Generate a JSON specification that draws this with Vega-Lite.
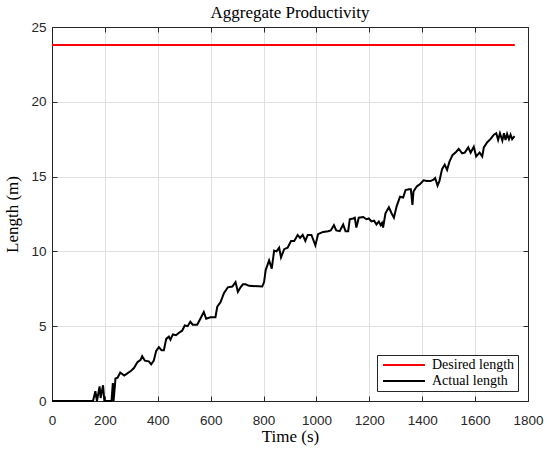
{
  "$schema": "https://vega.github.io/schema/vega-lite/v6.json",
  "width": 476,
  "height": 374,
  "autosize": {"type": "none"},
  "padding": {"left": 52, "top": 27, "right": 22, "bottom": 53},
  "background": "white",
  "title": {
    "text": "Aggregate Productivity",
    "font": "Liberation Serif",
    "fontSize": 17,
    "fontWeight": "normal",
    "color": "#000000",
    "anchor": "middle",
    "offset": -2
  },
  "config": {
    "view": {"stroke": "#262626", "strokeWidth": 1},
    "axis": {
      "labelFont": "Liberation Sans",
      "labelFontSize": 13.5,
      "labelColor": "#262626",
      "titleFont": "Liberation Serif",
      "titleFontSize": 17,
      "titleFontWeight": "normal",
      "titleColor": "#000000",
      "domainColor": "#262626",
      "tickColor": "#262626",
      "tickSize": -5,
      "gridColor": "#e0e0e0",
      "gridWidth": 1
    }
  },
  "datasets": {
    "desired": [
      {"t": 0, "v": 23.8, "series": "Desired length"},
      {"t": 1750, "v": 23.8, "series": "Desired length"}
    ],
    "actual": [
      {"t": 0, "v": 0}, {"t": 155, "v": 0}, {"t": 164, "v": 0.65}, {"t": 170, "v": 0},
      {"t": 180, "v": 0.98}, {"t": 184, "v": 0.2}, {"t": 193, "v": 1.05}, {"t": 198, "v": 0},
      {"t": 225, "v": 0}, {"t": 230, "v": 1.2}, {"t": 233, "v": 0}, {"t": 240, "v": 1.5},
      {"t": 248, "v": 1.55}, {"t": 258, "v": 1.9}, {"t": 273, "v": 1.7}, {"t": 285, "v": 1.85},
      {"t": 298, "v": 2.0}, {"t": 310, "v": 2.2}, {"t": 323, "v": 2.6}, {"t": 335, "v": 2.75},
      {"t": 341, "v": 3.0}, {"t": 351, "v": 2.7}, {"t": 366, "v": 2.65}, {"t": 375, "v": 2.45},
      {"t": 385, "v": 2.7}, {"t": 394, "v": 3.35}, {"t": 404, "v": 3.6}, {"t": 414, "v": 3.4},
      {"t": 423, "v": 3.4}, {"t": 432, "v": 4.15}, {"t": 442, "v": 4.3}, {"t": 448, "v": 4.1},
      {"t": 457, "v": 4.45}, {"t": 469, "v": 4.4}, {"t": 479, "v": 4.55}, {"t": 492, "v": 4.7},
      {"t": 502, "v": 5.05}, {"t": 513, "v": 5.0}, {"t": 523, "v": 5.3}, {"t": 532, "v": 5.1},
      {"t": 549, "v": 5.1}, {"t": 561, "v": 5.5}, {"t": 574, "v": 5.95}, {"t": 583, "v": 5.5},
      {"t": 599, "v": 5.6}, {"t": 618, "v": 5.6}, {"t": 625, "v": 6.3}, {"t": 637, "v": 6.6},
      {"t": 650, "v": 7.2}, {"t": 665, "v": 7.6}, {"t": 682, "v": 7.65}, {"t": 694, "v": 7.95},
      {"t": 703, "v": 7.3}, {"t": 713, "v": 7.6}, {"t": 722, "v": 7.8}, {"t": 732, "v": 7.8},
      {"t": 745, "v": 7.7}, {"t": 795, "v": 7.65}, {"t": 802, "v": 7.95}, {"t": 808, "v": 8.75},
      {"t": 821, "v": 9.4}, {"t": 831, "v": 8.85}, {"t": 840, "v": 10.05}, {"t": 849, "v": 10.0},
      {"t": 859, "v": 10.25}, {"t": 866, "v": 9.6}, {"t": 878, "v": 10.15}, {"t": 891, "v": 10.25},
      {"t": 904, "v": 10.7}, {"t": 916, "v": 10.7}, {"t": 929, "v": 11.1}, {"t": 938, "v": 10.9},
      {"t": 948, "v": 11.1}, {"t": 958, "v": 10.7}, {"t": 967, "v": 11.1}, {"t": 981, "v": 11.1},
      {"t": 996, "v": 10.4}, {"t": 1006, "v": 11.15}, {"t": 1025, "v": 11.3}, {"t": 1044, "v": 11.35},
      {"t": 1054, "v": 11.4}, {"t": 1066, "v": 11.75}, {"t": 1075, "v": 11.4}, {"t": 1088, "v": 11.35},
      {"t": 1101, "v": 11.8}, {"t": 1110, "v": 11.35}, {"t": 1120, "v": 11.35}, {"t": 1126, "v": 12.15},
      {"t": 1139, "v": 12.2}, {"t": 1145, "v": 12.25}, {"t": 1151, "v": 11.6}, {"t": 1160, "v": 12.25},
      {"t": 1177, "v": 12.3}, {"t": 1189, "v": 12.15}, {"t": 1198, "v": 12.2}, {"t": 1208, "v": 12.0},
      {"t": 1218, "v": 12.05}, {"t": 1227, "v": 11.8}, {"t": 1236, "v": 12.0}, {"t": 1243, "v": 11.75},
      {"t": 1248, "v": 11.9}, {"t": 1252, "v": 11.6}, {"t": 1261, "v": 12.55}, {"t": 1274, "v": 12.95},
      {"t": 1284, "v": 12.55}, {"t": 1293, "v": 12.25}, {"t": 1303, "v": 13.0}, {"t": 1316, "v": 13.65},
      {"t": 1328, "v": 13.6}, {"t": 1337, "v": 14.1}, {"t": 1350, "v": 14.15}, {"t": 1357, "v": 14.15},
      {"t": 1363, "v": 13.1}, {"t": 1367, "v": 14.0}, {"t": 1380, "v": 14.35}, {"t": 1392, "v": 14.5},
      {"t": 1405, "v": 14.75}, {"t": 1418, "v": 14.7}, {"t": 1431, "v": 14.7}, {"t": 1443, "v": 14.8},
      {"t": 1449, "v": 14.9}, {"t": 1458, "v": 14.4}, {"t": 1465, "v": 14.7}, {"t": 1475, "v": 15.5},
      {"t": 1485, "v": 15.8}, {"t": 1494, "v": 15.45}, {"t": 1503, "v": 16.0}, {"t": 1515, "v": 16.45},
      {"t": 1528, "v": 16.65}, {"t": 1538, "v": 16.85}, {"t": 1551, "v": 16.55}, {"t": 1561, "v": 16.6},
      {"t": 1574, "v": 16.95}, {"t": 1583, "v": 16.6}, {"t": 1595, "v": 17.0}, {"t": 1604, "v": 16.35},
      {"t": 1617, "v": 16.6}, {"t": 1627, "v": 16.35}, {"t": 1633, "v": 16.95}, {"t": 1646, "v": 17.3},
      {"t": 1658, "v": 17.5}, {"t": 1671, "v": 17.8}, {"t": 1680, "v": 17.9}, {"t": 1687, "v": 17.45},
      {"t": 1694, "v": 17.9}, {"t": 1703, "v": 17.4}, {"t": 1709, "v": 17.9}, {"t": 1715, "v": 17.45},
      {"t": 1721, "v": 17.85}, {"t": 1728, "v": 17.5}, {"t": 1734, "v": 17.8}, {"t": 1740, "v": 17.5},
      {"t": 1749, "v": 17.7}
    ]
  },
  "layer": [
    {
      "data": {"name": "actual"},
      "transform": [{"calculate": "'Actual length'", "as": "series"}],
      "mark": {"type": "line", "strokeWidth": 2, "interpolate": "linear"},
      "encoding": {
        "x": {
          "field": "t",
          "type": "quantitative",
          "scale": {"domain": [0, 1800], "nice": false},
          "axis": {
            "title": "Time (s)",
            "format": "d",
            "values": [0, 200, 400, 600, 800, 1000, 1200, 1400, 1600, 1800],
            "labelPadding": 17,
            "titlePadding": 2,
            "labelFlush": false
          }
        },
        "y": {
          "field": "v",
          "type": "quantitative",
          "scale": {"domain": [0, 25], "nice": false},
          "axis": {
            "title": "Length (m)",
            "values": [0, 5, 10, 15, 20, 25],
            "labelPadding": 11,
            "titlePadding": 9,
            "labelFlush": false
          }
        },
        "color": {
          "field": "series",
          "type": "nominal",
          "scale": {"domain": ["Desired length", "Actual length"], "range": ["#ff0000", "#000000"]},
          "legend": {
            "title": null,
            "orient": "bottom-right",
            "offset": 10,
            "symbolType": "M-4,0H4",
            "symbolSize": 110,
            "symbolStrokeWidth": 2,
            "symbolFillColor": "transparent",
            "symbolOffset": 17,
            "labelFont": "Liberation Serif",
            "labelFontSize": 14,
            "labelColor": "#000000",
            "labelOffset": 21,
            "fillColor": "white",
            "strokeColor": "#262626",
            "padding": 3,
            "rowPadding": 2
          }
        }
      }
    },
    {
      "data": {"name": "desired"},
      "mark": {"type": "line", "strokeWidth": 2},
      "encoding": {
        "x": {
          "field": "t",
          "type": "quantitative",
          "scale": {"domain": [0, 1800], "nice": false},
          "axis": {
            "orient": "top",
            "values": [0, 200, 400, 600, 800, 1000, 1200, 1400, 1600, 1800],
            "labels": false,
            "title": null,
            "grid": false
          }
        },
        "y": {
          "field": "v",
          "type": "quantitative",
          "scale": {"domain": [0, 25], "nice": false},
          "axis": {
            "orient": "right",
            "values": [0, 5, 10, 15, 20, 25],
            "labels": false,
            "title": null,
            "grid": false
          }
        },
        "color": {"field": "series", "type": "nominal"}
      }
    }
  ],
  "resolve": {"axis": {"x": "independent", "y": "independent"}}
}
